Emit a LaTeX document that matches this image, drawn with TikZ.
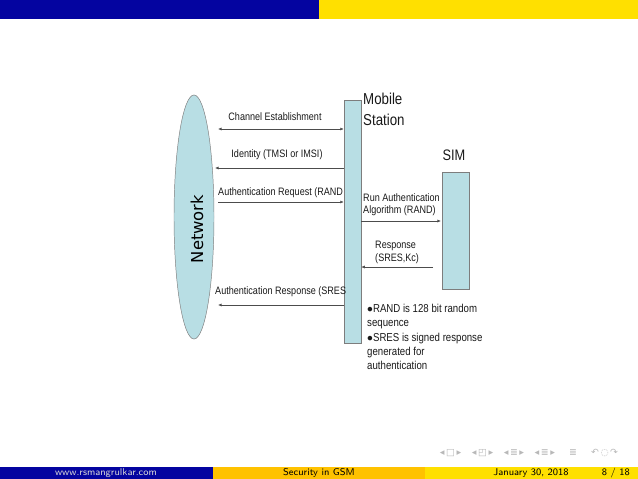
\documentclass[tikz,border=0pt]{standalone}
\usepackage{fontspec}
\usetikzlibrary{arrows.meta,shapes.geometric}
\newfontfamily\diagfont[FakeStretch=0.84]{Liberation Sans}
\newfontfamily\wordfont{DejaVu Sans}
\definecolor{barblue}{RGB}{4,4,160}
\definecolor{baryellow}{RGB}{255,224,0}
\definecolor{barorange}{RGB}{255,194,0}
\definecolor{lightteal}{RGB}{184,222,228}
\definecolor{edgegray}{RGB}{125,125,125}

\begin{document}
\begin{tikzpicture}[x=0.03cm,y=-0.03cm,
	lane/.style={draw=edgegray,fill=lightteal,inner sep=0pt},
	msg/.style={draw=black!70,line width=0.5pt,-{Latex[length=3pt,width=2.5pt]}},
	lbl/.style={font=\diagfont\fontsize{9.2}{11}\selectfont,text=black!90,inner sep=0pt,align=left},
	foot/.style={font=\sffamily\fontsize{8.4}{9}\selectfont,inner sep=0pt}]
				\useasboundingbox (0,0) rectangle (638,479);
				% head bar
				\fill[barblue] (0,0) rectangle (319,19);
				\fill[baryellow] (319,0) rectangle (638,19);
				% actors
				\node[lane,ellipse,minimum width=1.2cm,minimum height=7.32cm] (network) at (194,217) {};
				\node[lane,rectangle,minimum width=0.51cm,minimum height=7.29cm] (ms) at (352.5,221.5) {};
				\node[lane,rectangle,minimum width=0.81cm,minimum height=3.51cm] (sim) at (455.5,230.5) {};
				\node[rotate=90,font=\wordfont\fontsize{14}{15}\selectfont,text=black] (nettext) at (197,229) {Network};
				\node[anchor=north west,align=left,inner sep=0pt,font=\diagfont\fontsize{13.5}{18}\selectfont,text=black!90] (mstext) at (363,93) {Mobile\\Station};
				\node[font=\diagfont\fontsize{13}{14}\selectfont,text=black!90] (simtext) at (454,155) {SIM};
				% message ends
				\coordinate (CE) at (218,129);
				\coordinate (ID) at (215,168);
				\coordinate (AR) at (218,202);
				\coordinate (RA) at (441,221);
				\coordinate (RS) at (433,267);
				\coordinate (AS) at (218,305);
				\draw[msg,{Latex[length=3pt,width=2.5pt]}-{Latex[length=3pt,width=2.5pt]}] (CE) -- (ms.west |- CE);
				\draw[msg] (ms.west |- ID) -- (ID);
				\draw[msg] (AR) -- (ms.west |- AR);
				\draw[msg] (ms.east |- RA) -- (RA);
				\draw[msg] (RS) -- (ms.east |- RS);
				\draw[msg] (ms.west |- AS) -- (AS);
				% labels
				\node[lbl] (celbl) at (275,117) {Channel Establishment};
				\node[lbl] (idlbl) at (277,155) {Identity (TMSI or IMSI)};
				\node[lbl,anchor=west] (arlbl) at (218,193) {Authentication Request (RAND};
				\node[lbl,anchor=north west] (ralbl) at (363,193) {Run Authentication\\Algorithm (RAND)};
				\node[lbl,anchor=north west] (rslbl) at (375,241) {Response\\(SRES,Kc)};
				\node[lbl,anchor=west] (aslbl) at (215,292) {Authentication Response (SRES};
				\node[lbl,anchor=north west,font=\diagfont\fontsize{9.8}{12.2}\selectfont] (note) at (367,304) {$\bullet$RAND is 128 bit random\\sequence\\$\bullet$SRES is signed response\\generated for\\authentication};
				% navigation symbols
				\node[font=\wordfont\fontsize{8}{9}\selectfont,text=black!28] (nav) at (529,453) {◂\,□\,▸\hspace{9pt}◂\,◰\,▸\hspace{9pt}◂\,≣\,▸\hspace{9pt}◂\,≣\,▸\hspace{12pt}≣\hspace{12pt}↶\,◌\,↷};
				% foot bar
				\fill[barblue] (0,467) rectangle (212.7,479);
				\fill[barorange] (212.7,467) rectangle (425.3,479);
				\fill[baryellow] (425.3,467) rectangle (638,479);
				\node[foot,text=black!15] (site) at (106,473) {www.rsmangrulkar.com};
				\node[foot] (title) at (319,473) {Security in GSM};
				\node[foot] (date) at (531,473) {January 30, 2018};
				\node[foot,anchor=east] (page) at (630,473) {8 / 18};
			\end{tikzpicture}
\end{document}
